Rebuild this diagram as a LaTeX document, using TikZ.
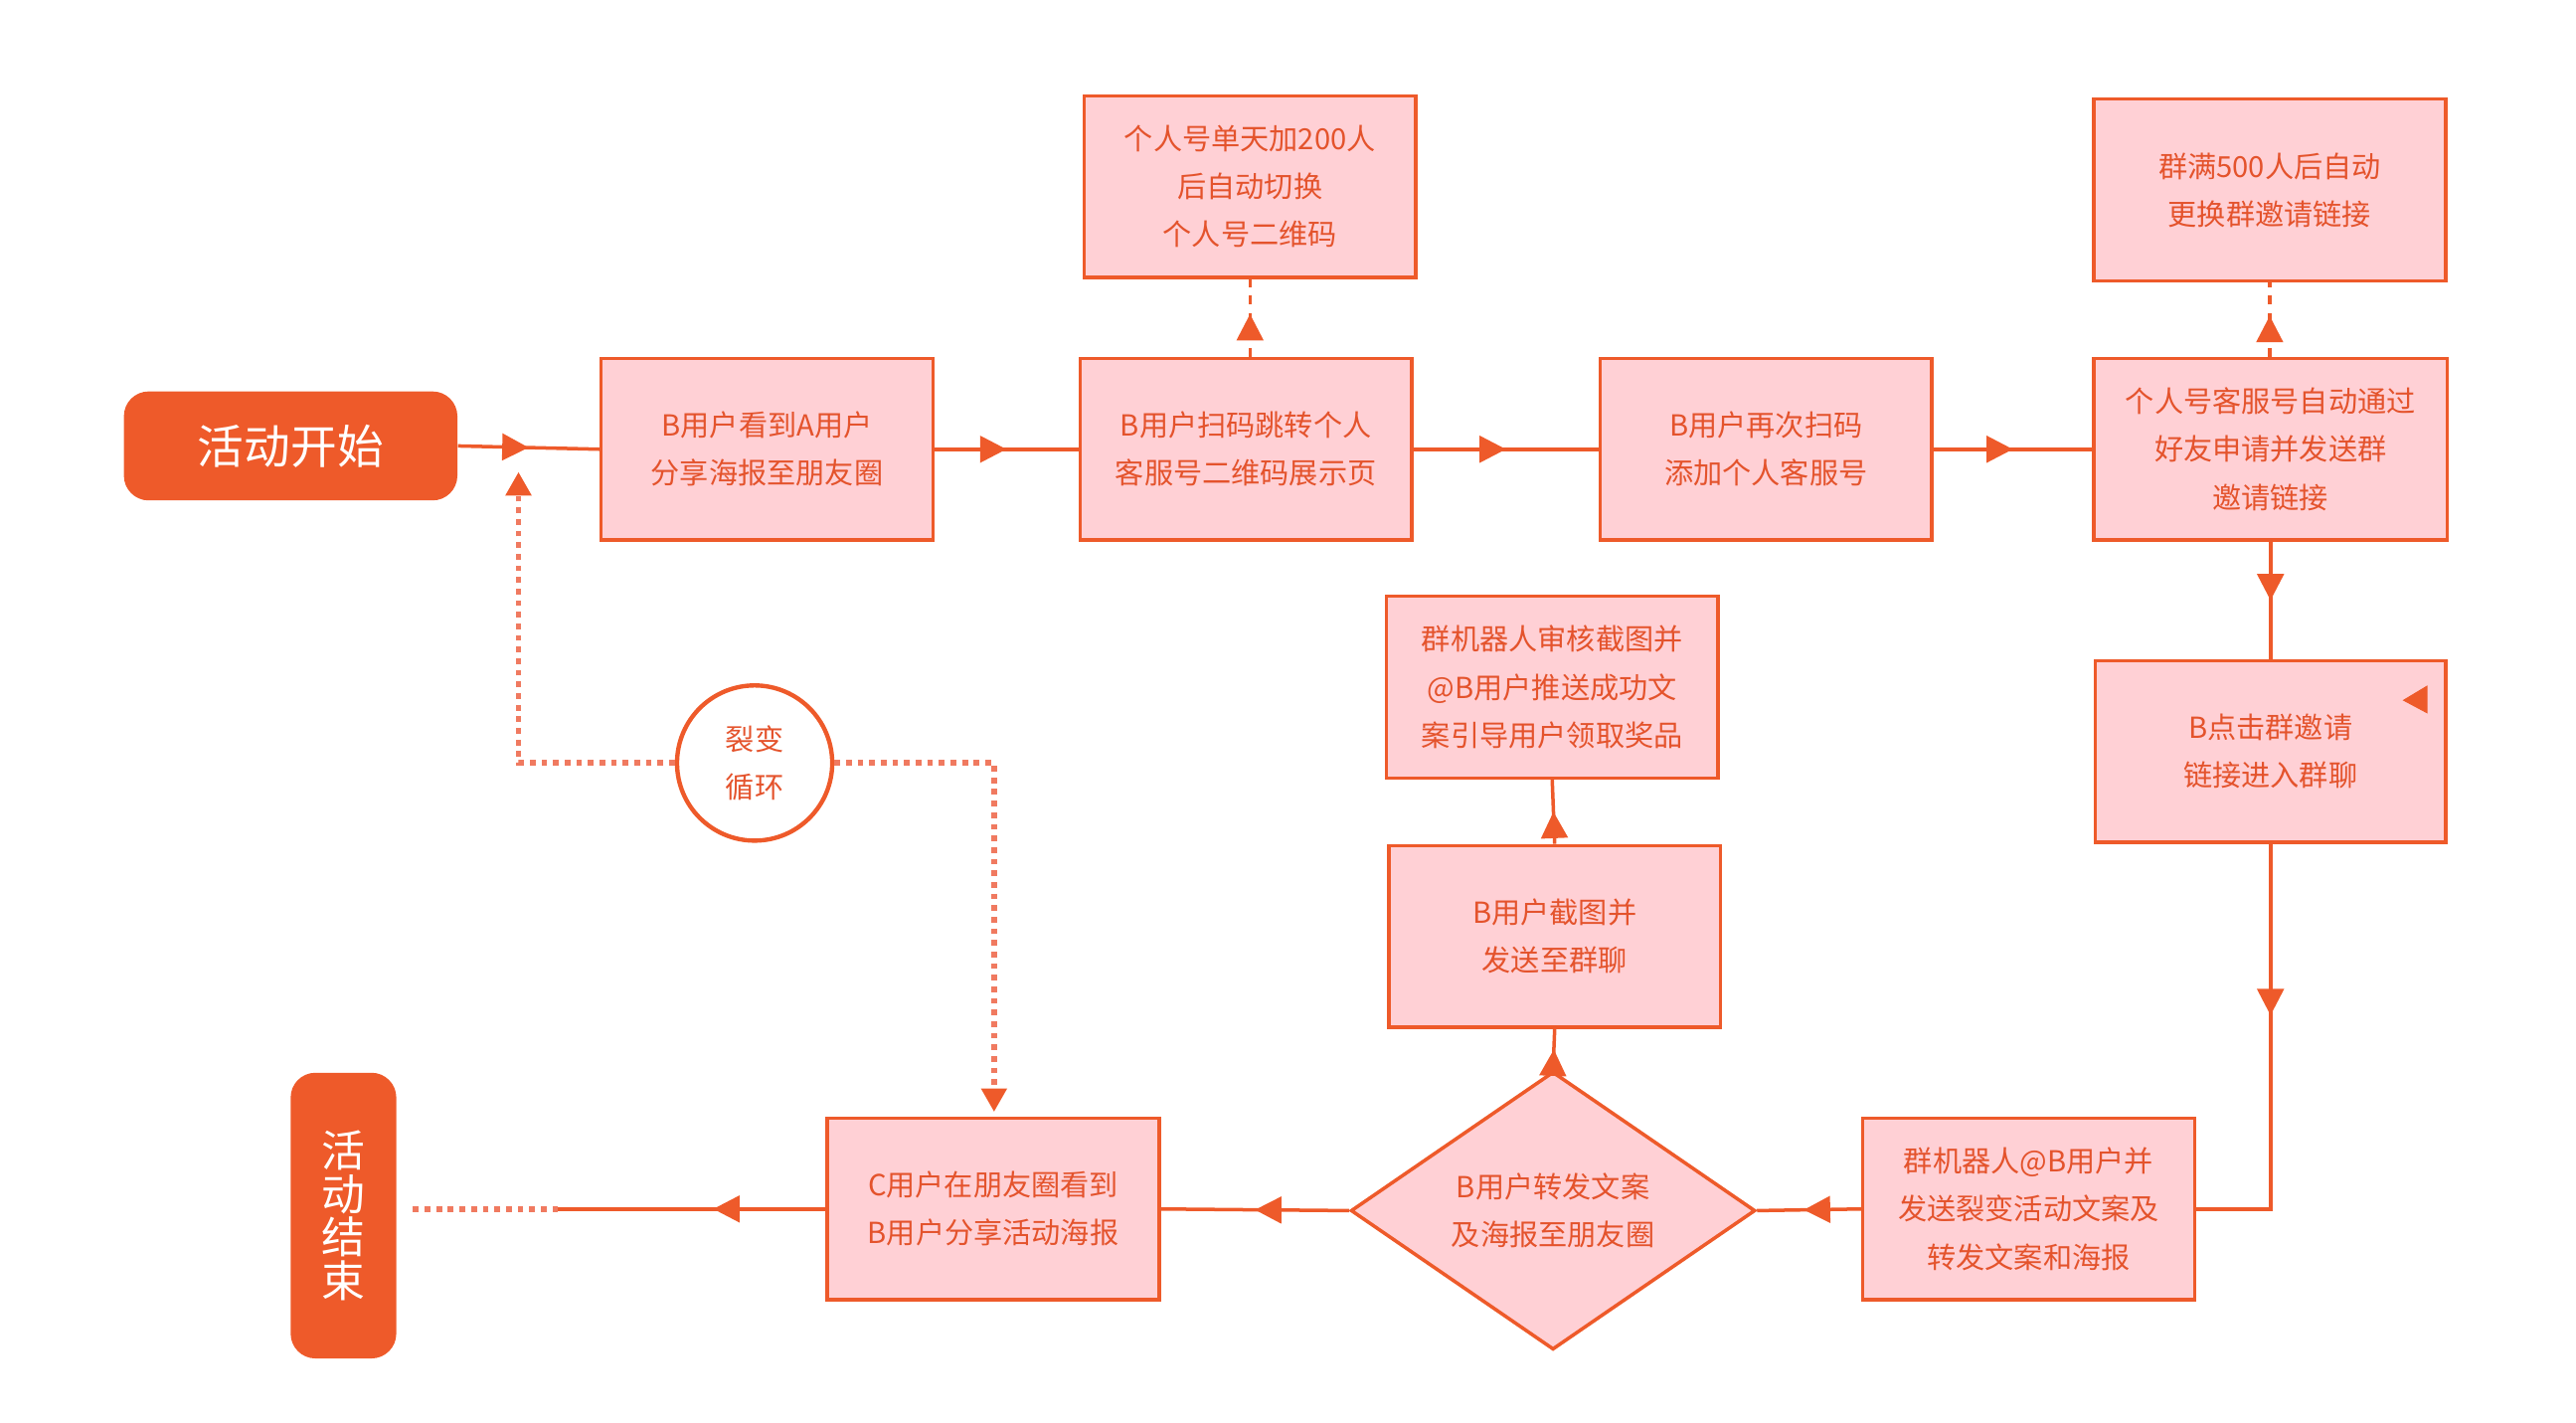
\documentclass[tikz,border=0pt]{standalone}
\usepackage{fontspec}
\setmainfont{Noto Sans CJK SC}
\usetikzlibrary{arrows.meta,decorations.markings,shapes.geometric}
\definecolor{org}{HTML}{EE5A2A}
\definecolor{pk}{HTML}{FFD0D5}
\definecolor{tx}{HTML}{E4532C}
\definecolor{dot}{HTML}{F07A60}
\begin{document}
\begin{tikzpicture}[x=0.02cm,y=-0.02cm,
 box/.style={draw=org,fill=pk,line width=1.2pt,minimum width=4.02cm,minimum height=2.2cm,align=center,text=tx,font=\fontsize{10}{16.5}\selectfont,inner sep=1pt},
 conn/.style={draw=org,line width=1.2pt},
 tip/.style={Triangle[length=0.32cm,width=0.32cm]},
 mid/.style={postaction={decorate},decoration={markings,mark=at position #1 with {\arrow[org]{Triangle[length=0.32cm,width=0.32cm]}}}},
 dotl/.style={draw=dot,line width=2pt,dotted}]
\useasboundingbox (0,0) rectangle (1560,861);
\node[fill=org,rounded corners=0.3cm,minimum width=4.04cm,minimum height=1.32cm,text=white,font=\fontsize{16}{18}\selectfont] (st) at (176,270) {活动开始};
\node[box] (b1) at (464.5,272) {B用户看到A用户\\分享海报至朋友圈};
\node[box] (b2) at (754.5,272) {B用户扫码跳转个人\\客服号二维码展示页};
\node[box] (t2) at (757,113) {个人号单天加200人\\后自动切换\\个人号二维码};
\node[box] (b3) at (1069.5,272) {B用户再次扫码\\添加个人客服号};
\node[box,minimum width=4.28cm] (b4) at (1375,272) {个人号客服号自动通过\\好友申请并发送群\\邀请链接};
\node[box,minimum width=4.26cm] (t4) at (1374.5,115) {群满500人后自动\\更换群邀请链接};
\node[box,minimum width=4.24cm] (b5) at (1375,455) {B点击群邀请\\链接进入群聊};
\fill[org] (1455,424) -- (1470,415) -- (1470,432) -- cycle;
\node[box] (b6) at (1228.5,732) {群机器人@B用户并\\发送裂变活动文案及\\转发文案和海报};
\node[diamond,draw=org,fill=pk,line width=1.2pt,minimum width=4.9cm,minimum height=2.86cm,inner sep=0pt,align=center,text=tx,font=\fontsize{10}{16.5}\selectfont] (d) at (940.5,733) {B用户转发文案\\及海报至朋友圈};
\node[box] (b7) at (941.5,567) {B用户截图并\\发送至群聊};
\node[box] (b8) at (940,416) {群机器人审核截图并\\@B用户推送成功文\\案引导用户领取奖品};
\node[box] (b9) at (601.5,732) {C用户在朋友圈看到\\B用户分享活动海报};
\node[fill=org,rounded corners=0.3cm,minimum width=1.28cm,minimum height=3.46cm,text=white,align=center,font=\fontsize{15}{15}\selectfont] (en) at (208,736) {活\\动\\结\\束};
\node[circle,draw=org,line width=1.5pt,minimum size=1.88cm,align=center,text=tx,font=\fontsize{10}{16.5}\selectfont] (c) at (457,462) {裂变\\循环};
\draw[conn,mid=0.5] (st.east) -- (b1.west);
\draw[conn,mid=0.5] (b1.east) -- (b2.west);
\draw[conn,mid=0.5] (b2.east) -- (b3.west);
\draw[conn,mid=0.5] (b3.east) -- (b4.west);
\draw[conn,mid=0.5] (b4.south) -- (b5.north);
\draw[conn,mid=0.39] (b5.south) |- (b6.east);
\draw[conn,mid=0.55] (b6.west) -- (d.east);
\draw[conn,mid=0.5] (d.north) -- (b7.south);
\draw[conn,mid=0.5] (b7.north) -- (b8.south);
\draw[conn,mid=0.5] (d.west) -- (b9.west -| b9.east);
\coordinate (k) at (338,732);
\draw[conn,mid=0.42] (b9.west) -- (k);
\draw[dotl] (k) -- (250,732);
\draw[conn,dashed,mid=0.55] (b2.north -| t2.south) -- (t2.south);
\draw[conn,dashed,mid=0.55] (b4.north -| t4.south) -- (t4.south);
\coordinate (lp) at (314,288);
\draw[dotl] (c.west) -| (314,300);
\fill[org] (314,286) -- (306,300) -- (322,300) -- cycle;
\draw[dotl] (c.east) -| (602,660);
\fill[org] (602,673) -- (594,659) -- (610,659) -- cycle;
\end{tikzpicture}
\end{document}
